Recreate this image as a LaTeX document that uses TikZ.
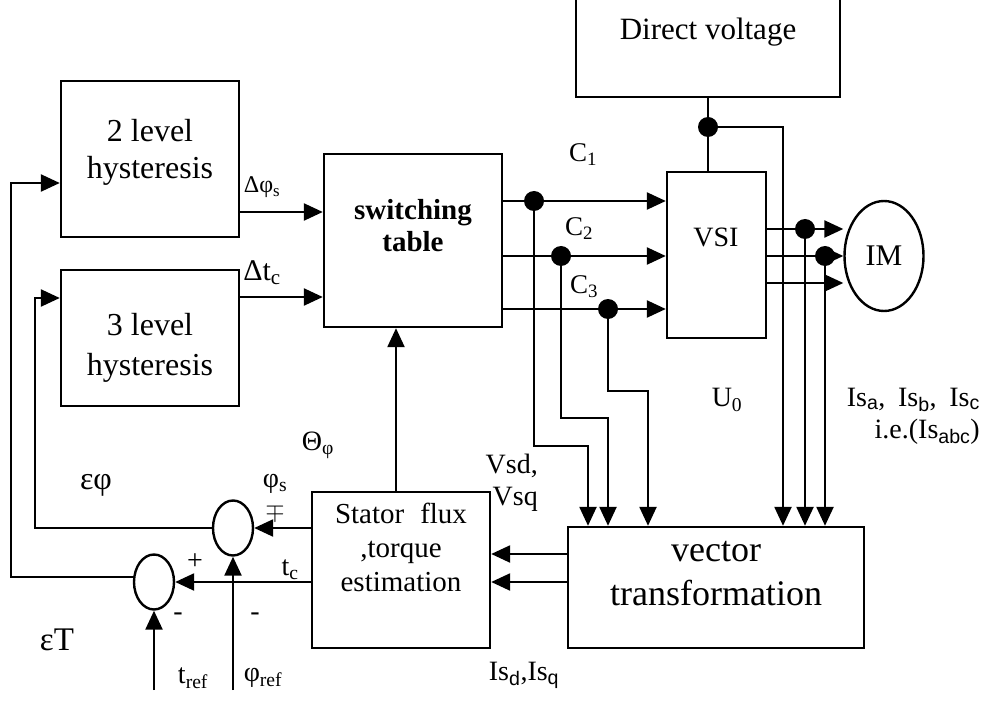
\documentclass[tikz,border=0pt]{standalone}
\usepackage{fontspec}
\setmainfont{Liberation Serif}
\newfontfamily\subsf{Liberation Sans}
\usepackage{tikz}
\usetikzlibrary{positioning,arrows.meta,calc,shapes.geometric}
\newcommand{\fsz}[2]{\fontsize{#1}{#2}\selectfont}

\begin{document}
\begin{tikzpicture}[x=1pt,y=-1pt,line width=2.4pt,
  box/.style={draw,rectangle,inner sep=0pt},
  sum/.style={draw,ellipse,inner sep=0pt,minimum width=40,minimum height=55},
  arr/.style={-{Triangle[length=19pt,width=17pt]}},
  dot/.style={circle,fill,inner sep=0pt,minimum size=20pt},
  lbl/.style={inner sep=0pt,font=\fsz{28}{32}}]
\useasboundingbox (0,0) rectangle (981,708);
\node[box,minimum width=264,minimum height=106] (dv) at (708,44) {};
\node[lbl,font=\fsz{31}{34}] (dvtxt) at (708,32) {Direct voltage};
\node[box,minimum width=178,minimum height=156] (hys2) at (150,159) {};
\node[lbl,align=center,font=\fsz{32}{37}] (hys2txt) at (150,152) {2 level\\hysteresis};
\node[box,minimum width=178,minimum height=136] (hys3) at (150,338) {};
\node[lbl,align=center,font=\fsz{32}{40}] (hys3txt) at (150,348) {3 level\\hysteresis};
\node[box,minimum width=178,minimum height=173] (sw) at (413,240.5) {};
\node[lbl,align=center,font=\fsz{29}{32}\bfseries] (swtxt) at (413,226) {switching\\table};
\node[box,minimum width=99,minimum height=166] (vsi) at (716.5,255) {};
\node[lbl] (vsitxt) at (716,237) {VSI};
\node[draw,ellipse,inner sep=0pt,minimum width=79,minimum height=110,font=\fsz{30}{32}] (im) at (884,256) {IM};
\node[box,minimum width=178,minimum height=156] (est) at (401,570) {};
\node[lbl,align=center,font=\fsz{29}{34}] (esttxt) at (401,547) {Stator\hspace{0.55em}flux\\,torque\\estimation};
\node[box,minimum width=296,minimum height=121] (vt) at (716,587.5) {};
\node[lbl,align=center,font=\fsz{36}{44}] (vttxt) at (716,574) {vector\\transformation};
\node[sum] (sphi) at (233,528) {};
\node[sum] (stq) at (154,582) {};
\coordinate (pref) at (233,690);
\coordinate (tref) at (154,690);

\draw[arr] ([yshift=5pt]stq.west) -- ++(-122,0) |- ([yshift=-24pt]hys2.west);
\draw[arr] (sphi.west) -- ++(-177,0) |- ([yshift=40pt]hys3.west);
\draw[arr] ([yshift=-53pt]hys2.east) -- ([yshift=-53pt]hys2.east -| sw.west);
\draw[arr] ([yshift=41pt]hys3.east) -- ([yshift=41pt]hys3.east -| sw.west);
\foreach \y/\xd/\yd/\xv/\xl/\yl [count=\i] in {201/534/446/588/583/155,256/561/418/608/579/229,309/608/391/648/584/287}{
  \draw[arr] (sw.east |- 0,\y) -- (vsi.west |- 0,\y);
  \node[dot] (c\i) at (\xd,\y) {};
  \draw[arr] (c\i.center) |- (\xv,\yd) -- (\xv,0 |- vt.north);
  \node[lbl,font=\fsz{27}{30}] (clab\i) at (\xl,\yl) {C\textsubscript{\i}};
}
\draw (dv.south) -- (dv.south |- vsi.north);
\node[dot] (du) at (708,127) {};
\draw[arr] (du.center) -| (783,0 |- vt.north);
\foreach \y in {229,256,283} \draw[arr] (vsi.east |- 0,\y) -- (im.west |- 0,\y);
\node[dot] (ia) at (805,229) {};
\node[dot] (ib) at (825,256) {};
\draw[arr] (ia.center) -- (805,0 |- vt.north);
\draw[arr] (ib.center) -- (825,0 |- vt.north);
\foreach \y in {554,582} \draw[arr] (vt.west |- 0,\y) -- (est.east |- 0,\y);
\draw[arr] ([xshift=-5pt]est.north) -- ([xshift=-5pt]est.north |- sw.south);
\draw[arr] (est.west |- sphi.east) -- (sphi.east);
\draw[arr] (est.west |- stq.east) -- (stq.east);
\draw[arr] (pref) -- (sphi.south);
\draw[arr] (tref) -- (stq.south);

\node[lbl,font=\fsz{24}{26}] (dphi) at (262,187) {Δφ\textsubscript{s}};
\node[lbl,font=\fsz{30}{32}] (dtc) at (262,273) {Δt\textsubscript{c}};
\node[lbl] (u0) at (727,400) {U\textsubscript{0}};
\node[lbl,align=right,anchor=east] (isabc) at (981,416) {Is\textsubscript{\subsf a},\hspace{0.45em}Is\textsubscript{\subsf b},\hspace{0.45em}Is\textsubscript{\subsf c}\\i.e.(Is\textsubscript{\subsf abc})};
\node[lbl,align=right,anchor=east] (vsdq) at (539,483) {Vsd,\\Vsq};
\node[lbl] (isdq) at (524,675) {Is\textsubscript{\subsf d},Is\textsubscript{\subsf q}};
\node[lbl] (theta) at (318,445) {Θ\textsubscript{φ}};
\node[lbl,font=\fsz{32}{34}] (ephi) at (96,485) {εφ};
\node[lbl,font=\fsz{33}{35}] (et) at (57,640) {εT};
\node[lbl] (phis) at (275,484) {φ\textsubscript{s}};
\node[lbl] (pm) at (275,512) {$\mp$};
\node[lbl] (pl) at (195,562) {+};
\node[lbl] (tc) at (290,570) {t\textsubscript{c}};
\node[lbl] (m1) at (178,617) {-};
\node[lbl] (m2) at (255,617) {-};
\node[lbl] (trf) at (193,678) {t\textsubscript{ref}};
\node[lbl] (prf) at (263,678) {φ\textsubscript{ref}};
\end{tikzpicture}
\end{document}
